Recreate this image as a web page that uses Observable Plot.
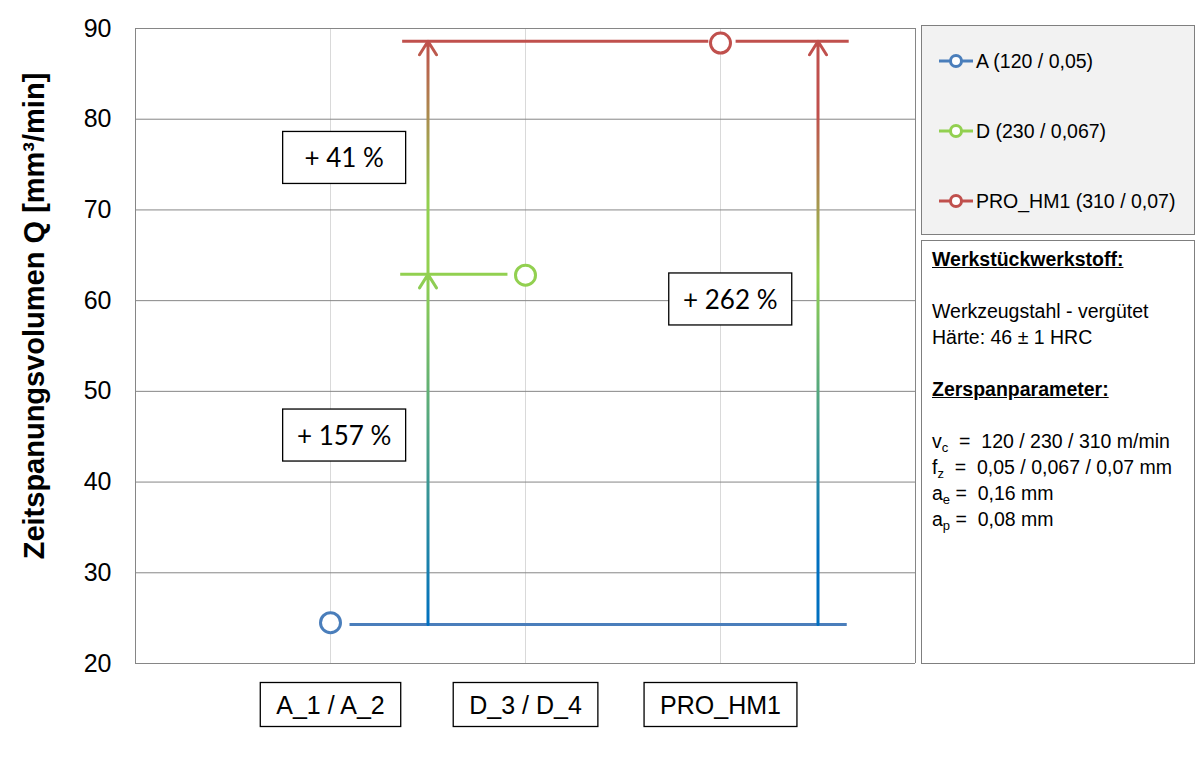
<!DOCTYPE html>
<html>
<head>
<meta charset="utf-8">
<script src="https://cdn.jsdelivr.net/npm/d3@7"></script>
<script src="https://cdn.jsdelivr.net/npm/@observablehq/plot@0.6"></script>
<style>
  html, body { margin: 0; padding: 0; background: #fff; }
  #wrap { position: relative; width: 1200px; height: 776px; overflow: hidden; }
  .panel { position: absolute; box-sizing: border-box; border: 1px solid #7f7f7f; font-family: "Liberation Sans", Arial, sans-serif; color: #000; }
  .legrow { position: absolute; left: 16px; height: 20px; display: flex; align-items: center; font-size: 19.5px; white-space: nowrap; }
  .legrow svg { margin-right: 2px; }
  #info { padding: 5px 0 0 10px; font-size: 19.5px; line-height: 26px; white-space: pre; }
  #info .h { font-weight: bold; text-decoration: underline; }
  #info sub { font-size: 13px; vertical-align: -4px; line-height: 0; }
</style>
</head>
<body>
<div id="wrap"></div>
<script>
// ---- data ----
const categories = ["A_1 / A_2", "D_3 / D_4", "PRO_HM1"];
const categoryPos = [1, 2, 3];
const seriesNames = ["A (120 / 0,05)", "D (230 / 0,067)", "PRO_HM1 (310 / 0,07)"];
const seriesColors = ["#4a7ebb", "#92d050", "#c0504d"];
const markerValues = [24.5, 62.8, 88.4];
const yTicks = [20, 30, 40, 50, 60, 70, 80, 90];

// level lines (series index, start, end, value)
const levelSeries = [0, 1, 2, 2];
const levelX1 = [1.10, 1.36, 1.37, 3.08];
const levelX2 = [3.65, 1.91, 2.94, 3.66];
const levelValues = [24.3, 62.9, 88.6, 88.6];

// arrows
const arrowX = [1.5, 1.5, 3.5];
const arrowFrom = [24.3, 62.9, 24.3];
const arrowTo = [62.9, 88.6, 88.6];

// percentage labels
const pctText = ["+ 41 %", "+ 157 %", "+ 262 %"];
const pctX = [1.07, 1.07, 3.05];
const pctY = [75.6, 45.0, 60.0];

const yTitle = "Zeitspanungsvolumen Q [mm³/min]";

// ---- build tables ----
const markers = categoryPos.map((x, i) => ({x, y: markerValues[i], c: seriesColors[i]}));
const levels = levelSeries.map((s, i) => ({x1: levelX1[i], x2: levelX2[i], y: levelValues[i], c: seriesColors[s]}));
const arrows = arrowX.map((x, i) => ({x, y1: arrowFrom[i], y2: arrowTo[i], g: "grad" + i}));
const pcts = pctText.map((t, i) => ({t, x: pctX[i], y: pctY[i]}));
const cats = categories.map((t, i) => ({t, x: categoryPos[i]}));

const plot = Plot.plot({
  width: 1200,
  height: 776,
  marginLeft: 135,
  marginRight: 285,
  marginTop: 28,
  marginBottom: 113,
  style: {fontFamily: "'Liberation Sans', Arial, sans-serif", fontSize: "25px", color: "#000", background: "transparent"},
  x: {type: "linear", domain: [0, 4], axis: null},
  y: {domain: [20, 90]},
  marks: [
    Plot.ruleX(categoryPos, {stroke: "#d9d9d9", strokeWidth: 1}),
    Plot.ruleY(yTicks, {stroke: "#868686", strokeWidth: 1}),
    Plot.ruleX([0, 4], {stroke: "#868686", strokeWidth: 1}),
    Plot.axisY({ticks: yTicks, tickSize: 0, tickPadding: 24, fontSize: 25, label: null, tickFormat: d => String(d)}),
    Plot.text([yTitle], {frameAnchor: "left", textAnchor: "middle", rotate: -90, dx: -101, dy: -30, fontWeight: "bold", fontSize: 29, text: d => d}),
    Plot.ruleY(levels, {x1: "x1", x2: "x2", y: "y", stroke: "c", strokeWidth: 3}),
    Plot.arrow(arrows, {x1: "x", x2: "x", y1: "y1", y2: "y2", stroke: d => `url(#${d.g})`, strokeWidth: 3, headLength: 8, headAngle: 64}),
    Plot.dot(markers, {x: "x", y: "y", r: 10, stroke: "c", strokeWidth: 3, fill: "white"}),
    Plot.text(pcts, {x: "x", y: "y", text: "t", fontFamily: "Lato, 'Open Sans', sans-serif", fontSize: 26, className: "pctbox"}),
    Plot.text(cats, {x: "x", frameAnchor: "bottom", dy: 50, text: "t", fontFamily: "'Liberation Sans Narrow', 'Arial Narrow', sans-serif", fontSize: 25, className: "catbox"})
  ]
});

const wrap = document.getElementById("wrap");
wrap.appendChild(plot);

// gradients along the arrows, positioned through the y scale
const ys = plot.scale("y");
const svgNS = "http://www.w3.org/2000/svg";
const defs = document.createElementNS(svgNS, "defs");
const blue = "#0070c0", green = "#92d050", red = "#c0504d";
const gradStops = [
  [[arrowFrom[0], blue], [arrowTo[0], green]],
  [[arrowFrom[1], green], [arrowFrom[1] + 8, green], [arrowTo[1], red]],
  [[arrowFrom[2], blue], [arrowFrom[2] + 8, blue], [markerValues[1], green], [arrowTo[2] - 8, red], [arrowTo[2], red]]
];
arrows.forEach((a, i) => {
  const g = document.createElementNS(svgNS, "linearGradient");
  g.setAttribute("id", a.g);
  g.setAttribute("gradientUnits", "userSpaceOnUse");
  const yA = ys.apply(a.y1), yB = ys.apply(a.y2 + 1.5);
  g.setAttribute("x1", 0); g.setAttribute("x2", 0);
  g.setAttribute("y1", yA); g.setAttribute("y2", yB);
  gradStops[i].forEach(([v, c]) => {
    const s = document.createElementNS(svgNS, "stop");
    const off = (ys.apply(v) - yA) / (yB - yA);
    s.setAttribute("offset", Math.max(0, Math.min(1, off)));
    s.setAttribute("stop-color", c);
    g.appendChild(s);
  });
  defs.appendChild(g);
});
plot.insertBefore(defs, plot.firstChild);

// boxes around text labels
function boxify(cls, fixedW, fixedH, padX) {
  plot.querySelectorAll("g." + cls + " text").forEach(t => {
    const bb = t.getBBox();
    const w = fixedW || bb.width + 2 * padX;
    const h = fixedH;
    const cx = bb.x + bb.width / 2, cy = bb.y + bb.height / 2;
    const r = document.createElementNS(svgNS, "rect");
    r.setAttribute("x", cx - w / 2);
    r.setAttribute("y", cy - h / 2);
    r.setAttribute("width", w);
    r.setAttribute("height", h);
    r.setAttribute("fill", "white");
    r.setAttribute("stroke", "#000");
    r.setAttribute("stroke-width", 1.3);
    const tr = t.getAttribute("transform");
    if (tr) r.setAttribute("transform", tr);
    t.parentNode.insertBefore(r, t);
  });
}
boxify("pctbox", 123, 52, 0);
boxify("catbox", 0, 44, 16);

// legend panel
const leg = document.createElement("div");
leg.className = "panel";
Object.assign(leg.style, {left: "921px", top: "25px", width: "274px", height: "210px", background: "#f2f2f2"});
const rowTops = [25, 95, 165];
seriesNames.forEach((n, i) => {
  const row = document.createElement("div");
  row.className = "legrow";
  row.style.top = rowTops[i] + "px";
  row.innerHTML = `<svg width="36" height="20"><line x1="1" x2="35" y1="10" y2="10" stroke="${seriesColors[i]}" stroke-width="3"/><circle cx="18" cy="10" r="5.5" fill="white" stroke="${seriesColors[i]}" stroke-width="3"/></svg><span>${n}</span>`;
  leg.appendChild(row);
});
wrap.appendChild(leg);

// info panel
const info = document.createElement("div");
info.className = "panel";
info.id = "info";
Object.assign(info.style, {left: "921px", top: "240px", width: "274px", height: "424px", background: "#fff"});
info.innerHTML = [
  '<span class="h">Werkstückwerkstoff:</span>',
  '',
  'Werkzeugstahl - vergütet',
  'Härte: 46 ± 1 HRC',
  '',
  '<span class="h">Zerspanparameter:</span>',
  '',
  'v<sub>c</sub>  =  120 / 230 / 310 m/min',
  'f<sub>z</sub>  =  0,05 / 0,067 / 0,07 mm',
  'a<sub>e</sub> =  0,16 mm',
  'a<sub>p</sub> =  0,08 mm'
].join("\n");
wrap.appendChild(info);
</script>
</body>
</html>
